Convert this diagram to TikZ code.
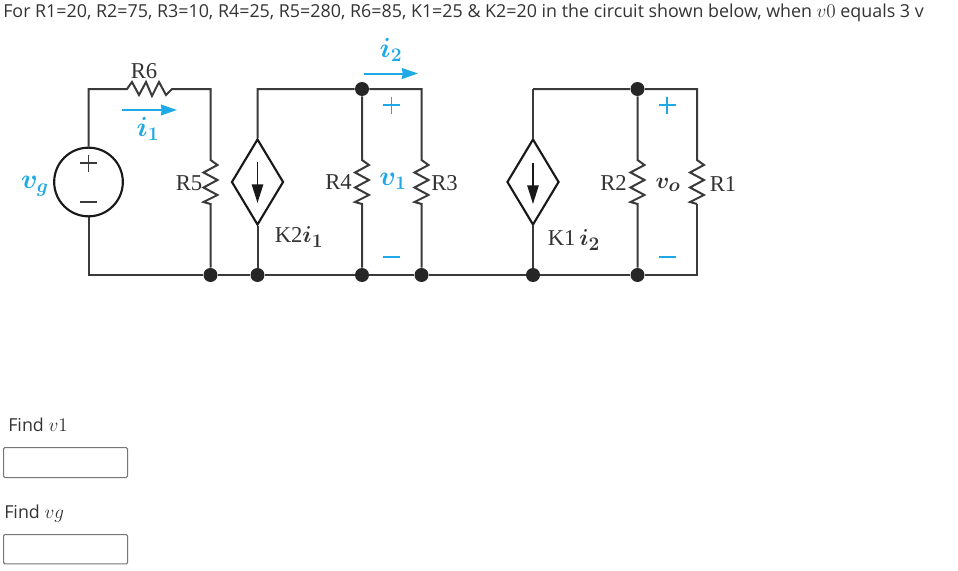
\documentclass[tikz,border=0pt]{standalone}
\usepackage{fontspec}
\setmainfont{Open Sans}
\newfontfamily\lblfont{Liberation Serif}
\usetikzlibrary{shapes.geometric,arrows.meta}
\definecolor{cyanlbl}{HTML}{1FA9E6}
\definecolor{wirec}{HTML}{3A3A3A}
\definecolor{txtc}{HTML}{333333}
\definecolor{boxc}{HTML}{767676}
\tikzset{
  wire/.style={draw=wirec,line width=1.5pt,line join=miter},
  dot/.style={circle,fill=black!85,draw=none,minimum size=10.5pt,inner sep=0pt},
  dep/.style={diamond,draw=black!90,line width=1.6pt,minimum width=39pt,minimum height=64.5pt,inner sep=0pt},
  src/.style={circle,draw=black!90,line width=1.6pt,minimum size=51.5pt,inner sep=0pt},
  vzig/.style={to path={-- ++(7,5) -- ++(-14,7.5) -- ++(14,7.5) -- ++(-14,7.5) -- ++(14,7.5) -- ++(-14,7) -- (\tikztotarget)}},
  hzig/.style={to path={-- ++(5,-7) -- ++(7,13) -- ++(7,-13) -- ++(6,14) -- ++(7,-14) -- ++(7,13) -- (\tikztotarget)}},
  lbl/.style={inner sep=0pt,text=black!80,font=\lblfont\fontsize{17}{20}\selectfont},
  mathlbl/.style={inner sep=0pt,text=black!80,font=\boldmath\fontsize{19}{20}\selectfont},
  cyan lbl/.style={inner sep=0pt,text=cyanlbl,font=\boldmath\fontsize{21}{24}\selectfont},
  curarrow/.style={draw=cyanlbl,line width=1.5pt,-{Stealth[length=12pt,width=8pt,inset=0.5pt]}},
  pageText/.style={inner sep=0pt,anchor=base west,text=txtc,font=\fontsize{13.4}{16}\selectfont},
  answer/.style={rectangle,rounded corners=1pt,draw=boxc,line width=0.8pt,minimum width=93pt,inner sep=0pt,anchor=north west},
}
\begin{document}
\begin{tikzpicture}[x=0.75pt,y=-0.75pt]
\useasboundingbox[fill=white] (0,0) rectangle (958,571);
% header and questions
\node[pageText] (head) at (3,17) {For R1=20, R2=75, R3=10, R4=25, R5=280, R6=85, K1=25 \& K2=20 in the circuit shown below, when $v0$ equals 3 v};
\node[pageText] (q1) at (8,431.5) {Find $v1$};
\node[pageText] (q2) at (4,518.5) {Find $vg$};
\node[answer,minimum height=22.5pt] (a1) at (3,447) {};
\node[answer,minimum height=22pt] (a2) at (3,534) {};
% elements
\node[src] (vs) at (88.5,182) {};
\node[dep] (d1) at (257.5,182) {};
\node[dep] (d2) at (533,182) {};
\node[dot] (n1) at (210.5,275) {};
\node[dot] (n2) at (257.5,275) {};
\node[dot] (n3) at (362,275) {};
\node[dot] (n4) at (421.5,275) {};
\node[dot] (n5) at (533,275) {};
\node[dot] (n6) at (637.5,275) {};
\node[dot] (t1) at (362,89) {};
\node[dot] (t2) at (637.5,89) {};
% corners and resistor ends
\coordinate (c1) at (88.5,89);
\coordinate (c2) at (210.5,89);
\coordinate (c3) at (88.5,275);
\coordinate (c4) at (257.5,89);
\coordinate (c5) at (421.5,89);
\coordinate (c6) at (533,89);
\coordinate (c7) at (697,89);
\coordinate (c8) at (697,275);
\coordinate (r6a) at (127,89);
\coordinate (r6b) at (172,89);
\coordinate (r5a) at (210.5,160);
\coordinate (r5b) at (210.5,204);
\coordinate (r4a) at (362,160);
\coordinate (r4b) at (362,204);
\coordinate (r3a) at (421.5,160);
\coordinate (r3b) at (421.5,204);
\coordinate (r2a) at (637.5,160);
\coordinate (r2b) at (637.5,204);
\coordinate (r1a) at (697,160);
\coordinate (r1b) at (697,204);
% wires
\draw[wire] (vs.north) -- (c1) -- (r6a) to[hzig] (r6b) -- (c2) -- (r5a) to[vzig] (r5b) -- (n1);
\draw[wire] (vs.south) -- (c3) -- (n1) -- (n2) -- (n3) -- (n4) -- (n5) -- (n6) -- (c8) -- (r1b);
\draw[wire] (c6) -- (t2) -- (c7) -- (r1a) to[vzig] (r1b);
\draw[wire] (c6) -- (d2.north);
\draw[wire] (d2.south) -- (n5);
\draw[wire] (t2) -- (r2a) to[vzig] (r2b) -- (n6);
\draw[wire] (d1.north) -- (c4) -- (t1) -- (c5) -- (r3a) to[vzig] (r3b) -- (n4);
\draw[wire] (d1.south) -- (n2);
\draw[wire] (t1) -- (r4a) to[vzig] (r4b) -- (n3);
% source polarity
\node[inner sep=0pt] (sp) at (88.5,163) {\tikz[x=0.75pt,y=-0.75pt]\draw[wirec,line width=1pt] (-8.5,0) -- (8.5,0) (0,-8.5) -- (0,8.5);};
\node[inner sep=0pt] (sm) at (88.5,202) {\tikz[x=0.75pt,y=-0.75pt]\draw[wirec,line width=1pt] (-8.5,0) -- (8.5,0);};
% dependent source arrows
\coordinate (d1a) at (257.5,162);
\coordinate (d1b) at (257.5,203);
\coordinate (d2a) at (533,163);
\coordinate (d2b) at (533,204);
\draw[draw=black!90,line width=1.3pt,-{Stealth[length=14pt,width=8.5pt,inset=0pt]}] (d1a) -- (d1b);
\draw[draw=black!90,line width=1.3pt,-{Stealth[length=14pt,width=8.5pt,inset=0pt]}] (d2a) -- (d2b);
% current arrows
\coordinate (i1a) at (122,110);
\coordinate (i1b) at (177,110);
\coordinate (i2a) at (364,73.5);
\coordinate (i2b) at (418,73.5);
\draw[curarrow] (i1a) -- (i1b);
\draw[curarrow] (i2a) -- (i2b);
% polarity marks
\foreach \nm/\px in {pa/391.5,pb/667}{
  \node[inner sep=0pt] (\nm) at (\px,105) {\tikz[x=0.75pt,y=-0.75pt]\draw[cyanlbl,line width=1pt] (-8.5,0) -- (8.5,0) (0,-8.5) -- (0,8.5);};
}
\foreach \nm/\px in {ma/391.5,mb/667}{
  \node[inner sep=0pt] (\nm) at (\px,257) {\tikz[x=0.75pt,y=-0.75pt]\draw[cyanlbl,line width=1pt] (-8.5,0) -- (8.5,0);};
}
% labels
\node[lbl] (lr6) at (144,71) {R6};
\node[lbl] (lr5) at (189,183) {R5};
\node[lbl] (lr4) at (338.5,182) {R4};
\node[lbl] (lr3) at (444.5,183) {R3};
\node[lbl] (lr2) at (613.5,183) {R2};
\node[lbl] (lr1) at (723,184) {R1};
\node[lbl] (lk2) at (299,237) {K2{\boldmath\fontsize{19}{20}\selectfont$i_1$}};
\node[lbl] (lk1) at (574,240) {K1\,{\boldmath\fontsize{19}{20}\selectfont$i_2$}};
\node[mathlbl] (lvo) at (668,185) {$v_o$};
\node[cyan lbl] (lvg) at (35,186) {$v_g$};
\node[cyan lbl] (lv1) at (393,181) {$v_1$};
\node[cyan lbl] (li1) at (148,129) {$i_1$};
\node[cyan lbl] (li2) at (391,50) {$i_2$};
\end{tikzpicture}
\end{document}
